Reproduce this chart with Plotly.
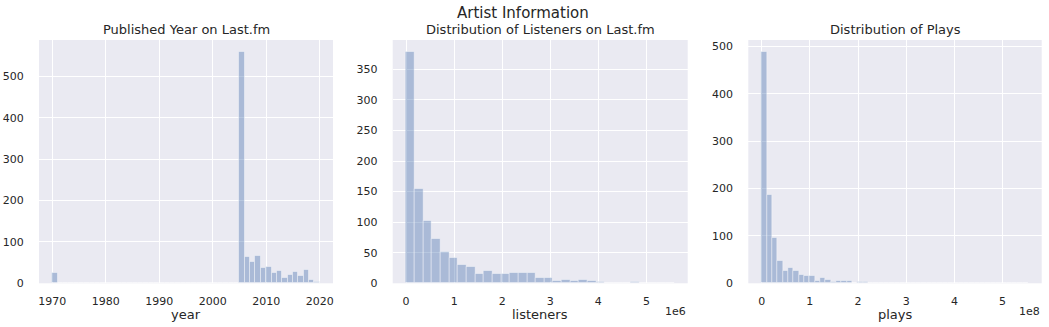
import numpy as np
import plotly.graph_objects as go

# ---------------- data ----------------
year_range = [1970, 2020]
year_counts = [26] + [0] * 34 + [560, 64, 52, 66, 38, 40, 26, 30, 14, 21, 28, 18, 33, 9, 4]

listeners_range = [0, 5.58e6]
listeners_counts = [379, 154, 102, 72, 51, 41, 30, 27, 15, 20, 15, 15, 17, 17, 17,
                    9, 9, 4, 5, 3, 5, 3, 2, 1, 0, 1, 2, 0, 0, 0, 1]

plays_range = [0, 5.535e8]
plays_counts = [489, 186, 95, 47, 26, 32, 26, 18, 15, 15, 5, 11, 7, 3, 5, 5, 5, 0, 3, 3,
                0, 1, 0, 0, 0, 0, 0, 1, 1, 0, 1, 0, 1, 0, 0, 0, 0, 0, 0, 0,
                0, 0, 0, 0, 0, 0, 0, 0, 0, 1]

year_ticks = [1970, 1980, 1990, 2000, 2010, 2020]
year_ticktext = ["1970", "1980", "1990", "2000", "2010", "2020"]
listeners_ticks = [0, 1e6, 2e6, 3e6, 4e6, 5e6]
listeners_ticktext = ["0", "1", "2", "3", "4", "5"]
plays_ticks = [0, 1e8, 2e8, 3e8, 4e8, 5e8]
plays_ticktext = ["0", "1", "2", "3", "4", "5"]

y1_ticks = [0, 100, 200, 300, 400, 500]
y2_ticks = [0, 50, 100, 150, 200, 250, 300, 350]
y3_ticks = [0, 100, 200, 300, 400, 500]

titles = ["Published Year on Last.fm", "Distribution of Listeners on Last.fm", "Distribution of Plays"]
xlabels = ["year", "listeners", "plays"]
suptitle = "Artist Information"

# ---------------- style ----------------
W, H = 1049, 327
FONT = "DejaVu Sans"
TXT = "#262626"
BG = "#EAEAF2"
BAR = "rgba(76,114,176,0.4)"
EDGE = "rgba(255,255,255,0.4)"

xdomains = [[39 / W, 333 / W], [392.7 / W, 687.7 / W], [748.3 / W, 1041.7 / W]]
ydomain = [(H - 283.3) / H, (H - 40) / H]

panels = [
    (year_range, year_counts, year_ticks, year_ticktext, y1_ticks),
    (listeners_range, listeners_counts, listeners_ticks, listeners_ticktext, y2_ticks),
    (plays_range, plays_counts, plays_ticks, plays_ticktext, y3_ticks),
]

fig = go.Figure()
layout = dict(
    width=W, height=H, autosize=False,
    margin=dict(l=0, r=0, t=0, b=0, autoexpand=False),
    paper_bgcolor="white", plot_bgcolor=BG,
    showlegend=False, bargap=0,
    font=dict(family=FONT, color=TXT, size=11),
    annotations=[],
)

for i, (rng, counts, xt, xtt, yt) in enumerate(panels):
    n = len(counts)
    edges = np.linspace(rng[0], rng[1], n + 1)
    centers = (edges[:-1] + edges[1:]) / 2
    width = edges[1] - edges[0]
    sfx = "" if i == 0 else str(i + 1)
    fig.add_trace(go.Bar(
        x=centers, y=counts, width=width,
        marker=dict(color=BAR, line=dict(color=EDGE, width=1)),
        xaxis="x" + sfx, yaxis="y" + sfx, hoverinfo="x+y",
    ))
    span = rng[1] - rng[0]
    ymax = max(counts) * 1.05
    layout["xaxis" + sfx] = dict(
        domain=xdomains[i], anchor="y" + sfx,
        range=[rng[0] - 0.05 * span, rng[1] + 0.05 * span],
        tickvals=xt, ticktext=xtt,
        ticks="outside", ticklen=7, tickcolor="rgba(0,0,0,0)",
        showgrid=True, gridcolor="white", gridwidth=1.1,
        zeroline=False, showline=False, automargin=False,
        tickfont=dict(size=11, color=TXT),
    )
    layout["yaxis" + sfx] = dict(
        domain=ydomain, anchor="x" + sfx,
        range=[0, ymax],
        tickvals=yt,
        ticks="outside", ticklen=12, tickcolor="rgba(0,0,0,0)",
        showgrid=True, gridcolor="white", gridwidth=1.1,
        zeroline=False, showline=False, automargin=False,
        tickfont=dict(size=11, color=TXT),
    )
    layout["annotations"].append(dict(
        text=titles[i], x=(xdomains[i][0] + xdomains[i][1]) / 2, y=(H - 29.5) / H,
        xref="paper", yref="paper", xanchor="center", yanchor="middle",
        showarrow=False, font=dict(size=13, color=TXT, family=FONT),
    ))
    layout["annotations"].append(dict(
        text=xlabels[i], x=(xdomains[i][0] + xdomains[i][1]) / 2, y=(H - 314) / H,
        xref="paper", yref="paper", xanchor="center", yanchor="middle",
        showarrow=False, font=dict(size=13, color=TXT, family=FONT),
    ))

for i, txt in [(1, "1e6"), (2, "1e8")]:
    layout["annotations"].append(dict(
        text=txt, x=xdomains[i][1], y=(H - 311.5) / H,
        xref="paper", yref="paper", xanchor="right", yanchor="middle",
        showarrow=False, font=dict(size=11, color=TXT, family=FONT),
    ))

layout["annotations"].append(dict(
    text=suptitle, x=523 / W, y=(H - 13.5) / H,
    xref="paper", yref="paper", xanchor="center", yanchor="middle",
    showarrow=False, font=dict(size=15, color=TXT, family=FONT),
))

fig.update_layout(**layout)
fig.write_html("out.html")
